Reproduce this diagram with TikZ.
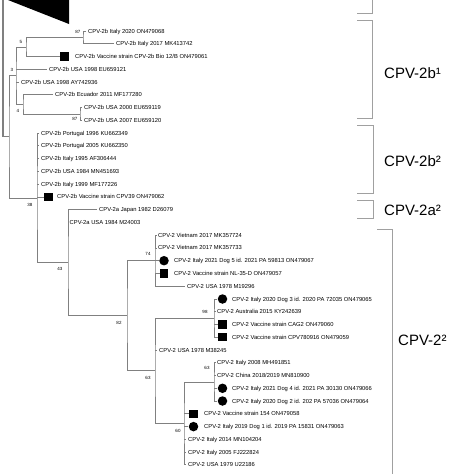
\documentclass[tikz,border=0pt]{standalone}
\usepackage{fontspec}
\setmainfont{Liberation Sans}
\definecolor{treegray}{HTML}{808080}
\definecolor{brkgray}{HTML}{A0A0A0}
\begin{document}
\begin{tikzpicture}[x=1pt,y=-1pt,
  br/.style={draw=treegray,line width=0.8pt},
  rootbr/.style={draw=treegray,line width=1.4pt},
  brk/.style={draw=brkgray,line width=0.9pt},
  leaf/.style={anchor=west,inner sep=0pt,font=\fontsize{5.8}{7}\selectfont,text height=4.15pt,text depth=0pt},
  bs/.style={inner sep=0pt,font=\fontsize{4.5}{5}\selectfont},
  sqm/.style={fill=black,minimum size=8.5pt,inner sep=0pt},
  cim/.style={circle,fill=black,minimum size=9.5pt,inner sep=0pt},
  clab/.style={anchor=west,inner sep=0pt,font=\fontsize{15}{17}\selectfont}]
\useasboundingbox (0,0) rectangle (474,474);
% collapsed clade
\fill[black] (8,0) -- (69,0) -- (69,24) -- cycle;
% leaves
\node[leaf] (l1) at (88,31.0) {CPV-2b Italy 2020 ON479068};
\node[leaf] (l2) at (116,43.8) {CPV-2b Italy 2017 MK413742};
\node[leaf] (l3) at (75,56.5) {CPV-2b Vaccine strain CPV-2b Bio 12/B ON479061};
\node[leaf] (l4) at (49,69.3) {CPV-2b USA 1998 EU659121};
\node[leaf] (l5) at (21,82.0) {CPV-2b USA 1998 AY742936};
\node[leaf] (l6) at (55,94.8) {CPV-2b Ecuador 2011 MF177280};
\node[leaf] (l7) at (84,107.6) {CPV-2b USA 2000 EU659119};
\node[leaf] (l8) at (84,120.3) {CPV-2b USA 2007 EU659120};
\node[leaf] (l9) at (41,133.1) {CPV-2b Portugal 1996 KU662349};
\node[leaf] (l10) at (41,145.8) {CPV-2b Portugal 2005 KU662350};
\node[leaf] (l11) at (41,158.6) {CPV-2b Italy 1995 AF306444};
\node[leaf] (l12) at (41,171.4) {CPV-2b USA 1984 MN451693};
\node[leaf] (l13) at (41,184.1) {CPV-2b Italy 1999 MF177226};
\node[leaf] (l14) at (57,196.9) {CPV-2b Vaccine strain CPV39 ON479062};
\node[leaf] (l15) at (99,209.6) {CPV-2a Japan 1982 D26079};
\node[leaf] (l16) at (69.5,222.4) {CPV-2a USA 1984 M24003};
\node[leaf] (l17) at (158,235.2) {CPV-2 Vietnam 2017 MK357724};
\node[leaf] (l18) at (158,247.9) {CPV-2 Vietnam 2017 MK357733};
\node[leaf] (l19) at (174,260.7) {CPV-2 Italy 2021 Dog 5 id. 2021 PA 59813 ON479067};
\node[leaf] (l20) at (174,273.4) {CPV-2 Vaccine strain NL-35-D ON479057};
\node[leaf] (l21) at (187,286.2) {CPV-2 USA 1978 M19296};
\node[leaf] (l22) at (232,299.0) {CPV-2 Italy 2020 Dog 3 id. 2020 PA 72035 ON479065};
\node[leaf] (l23) at (217,311.7) {CPV-2 Australia 2015 KY242639};
\node[leaf] (l24) at (232,324.5) {CPV-2 Vaccine strain CAG2 ON479060};
\node[leaf] (l25) at (232,337.2) {CPV-2 Vaccine strain CPV780916 ON479059};
\node[leaf] (l26) at (159,350.0) {CPV-2 USA 1978 M38245};
\node[leaf] (l27) at (217,362.8) {CPV-2 Italy 2008 MH491851};
\node[leaf] (l28) at (217,375.5) {CPV-2 China 2018/2019 MN810900};
\node[leaf] (l29) at (232,388.3) {CPV-2 Italy 2021 Dog 4 id. 2021 PA 30130 ON479066};
\node[leaf] (l30) at (232,401.0) {CPV-2 Italy 2020 Dog 2 id. 202 PA 57036 ON479064};
\node[leaf] (l31) at (204,413.8) {CPV-2 Vaccine strain 154 ON479058};
\node[leaf] (l32) at (204,426.6) {CPV-2 Italy 2019 Dog 1 id. 2019 PA 15831 ON479063};
\node[leaf] (l33) at (188,439.3) {CPV-2 Italy 2014 MN104204};
\node[leaf] (l34) at (188,452.1) {CPV-2 Italy 2005 FJ222824};
\node[leaf] (l35) at (188,464.8) {CPV-2 USA 1979 U22186};
% markers
\node[sqm] (s3) at (64.5,56.5) {};
\node[sqm] (s14) at (48.5,196.9) {};
\node[cim] (c19) at (164,260.7) {};
\node[sqm] (s20) at (164,273.4) {};
\node[cim] (c22) at (222.5,299.0) {};
\node[sqm] (s24) at (222.5,324.5) {};
\node[sqm] (s25) at (222.5,337.2) {};
\node[cim] (c29) at (222.5,388.3) {};
\node[cim] (c30) at (222.5,401.0) {};
\node[sqm] (s31) at (193.5,413.8) {};
\node[cim] (c32) at (193.5,426.6) {};
% branch tips
\coordinate (t1) at (86,31.0);
\coordinate (t2) at (114,43.8);
\coordinate (t3) at (60,56.5);
\coordinate (t4) at (47,69.3);
\coordinate (t5) at (19,82.0);
\coordinate (t6) at (53,94.8);
\coordinate (t7) at (82,107.6);
\coordinate (t8) at (82,120.3);
\coordinate (t9) at (39,133.1);
\coordinate (t10) at (39,145.8);
\coordinate (t11) at (39,158.6);
\coordinate (t12) at (39,171.4);
\coordinate (t13) at (39,184.1);
\coordinate (t14) at (44,196.9);
\coordinate (t15) at (97,209.6);
\coordinate (t16) at (68.5,222.4);
\coordinate (t17) at (157,235.2);
\coordinate (t18) at (157,247.9);
\coordinate (t19) at (159,260.7);
\coordinate (t20) at (159.5,273.4);
\coordinate (t21) at (185,286.2);
\coordinate (t22) at (217,299.0);
\coordinate (t23) at (215.5,311.7);
\coordinate (t24) at (218,324.5);
\coordinate (t25) at (218,337.2);
\coordinate (t26) at (157,350.0);
\coordinate (t27) at (215.5,362.8);
\coordinate (t28) at (215.5,375.5);
\coordinate (t29) at (217,388.3);
\coordinate (t30) at (217,401.0);
\coordinate (t31) at (189,413.8);
\coordinate (t32) at (188,426.6);
\coordinate (t33) at (186,439.3);
\coordinate (t34) at (186,452.1);
\coordinate (t35) at (186,464.8);
% internal nodes
\coordinate (top) at (3,0);
\coordinate (rA) at (3,136.8);
\coordinate (R2) at (9,136.8);
\coordinate (n3) at (16,75.7);
\coordinate (n5) at (26,46.95);
\coordinate (n87a) at (83,37.4);
\coordinate (n4) at (23,104.4);
\coordinate (n87b) at (80,113.95);
\coordinate (n38) at (37,197.9);
\coordinate (n43) at (68,262.65);
\coordinate (n82) at (127,315.7);
\coordinate (n74) at (155,260.7);
\coordinate (n63a) at (155,370.7);
\coordinate (n98) at (214,318.1);
\coordinate (n63b) at (214,381.9);
\coordinate (n60) at (184,423.35);
% branches
\draw[rootbr] (top) -- (rA);
\draw[br] (rA) -- (R2);
\draw[br] (n3) -| (R2) |- (n38);
\draw[br] (n5) -| (n3) |- (n4);
\draw[br] (n87a) -| (n5) |- (t3);
\draw[br] (t1) -| (n87a) |- (t2);
\draw[br] (t6) -| (n4) |- (n87b);
\draw[br] (t7) -| (n87b) |- (t8);
\draw[br] (t9) -| (n38) |- (n43);
\draw[br] (t15) -| (n43) |- (n82);
\draw[br] (n74) -| (n82) |- (n63a);
\draw[br] (t17) -| (n74) |- (t21);
\draw[br] (n98) -| (n63a) |- (n60);
\draw[br] (t22) -| (n98) |- (t25);
\draw[br] (n63b) -| (n60) |- (t35);
\draw[br] (t27) -| (n63b) |- (t30);
\foreach \p/\c in {n3/t4,n3/t5,n38/t10,n38/t11,n38/t12,n38/t13,n38/t14,n43/t16,
  n74/t18,n74/t19,n74/t20,n63a/t26,n98/t23,n98/t24,n63b/t28,n63b/t29,
  n60/t31,n60/t32,n60/t33,n60/t34}
  \draw[br] (\p |- \c) -- (\c);
% bootstrap values
\node[bs] (b1) at (78,32) {87};
\node[bs] (b2) at (21,42) {5};
\node[bs] (b3) at (12,70) {3};
\node[bs] (b4) at (18,111) {4};
\node[bs] (b5) at (75,119) {87};
\node[bs] (b6) at (30,205) {38};
\node[bs] (b7) at (60,269) {43};
\node[bs] (b8) at (148,254) {74};
\node[bs] (b9) at (119,323) {82};
\node[bs] (b10) at (205,312) {98};
\node[bs] (b11) at (148,378) {63};
\node[bs] (b12) at (207,368) {63};
\node[bs] (b13) at (178,431) {60};
% clade brackets
\draw[brk] (357,13) -- (372,13) -- (372,0);
\draw[brk] (357,20) -- (372,20) -- (372,118) -- (357,118);
\draw[brk] (357,125) -- (373,125) -- (373,193) -- (357,193);
\draw[brk] (357,200) -- (373,200) -- (373,218) -- (357,218);
\draw[brk] (377,229) -- (392,229) -- (392,474);
\node[clab] (k1) at (384,73) {CPV-2b¹};
\node[clab] (k2) at (384,161) {CPV-2b²};
\node[clab] (k3) at (384,210) {CPV-2a²};
\node[clab] (k4) at (398,340) {CPV-2²};
\end{tikzpicture}
\end{document}
